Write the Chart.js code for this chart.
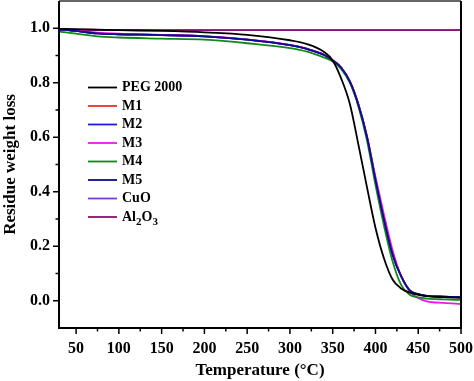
<!DOCTYPE html>
<html>
<head>
<meta charset="utf-8">
<script src="https://cdn.jsdelivr.net/npm/chart.js@4/dist/chart.umd.min.js"></script>
<style>
  html, body { margin: 0; padding: 0; background: #fff; }
  #wrap { width: 474px; height: 381px; }
</style>
</head>
<body>
<div id="wrap"><canvas id="c" width="474" height="381"></canvas></div>
<script>
// ---- data ----
const temps = [30, 50, 75, 100, 150, 200, 250, 300, 320, 340, 350, 360, 370, 380, 390, 400, 410, 420, 430, 440, 450, 460, 480, 500];
const peg2000 = [0.998, 0.997, 0.995, 0.993, 0.990, 0.985, 0.976, 0.956, 0.942, 0.913, 0.882, 0.815, 0.723, 0.574, 0.418, 0.268, 0.155, 0.078, 0.045, 0.030, 0.022, 0.017, 0.013, 0.011];
const m1 = [0.996, 0.990, 0.981, 0.978, 0.975, 0.970, 0.958, 0.938, 0.924, 0.902, 0.882, 0.855, 0.805, 0.720, 0.602, 0.444, 0.297, 0.170, 0.090, 0.038, 0.024, 0.018, 0.015, 0.013];
const m2 = [0.996, 0.990, 0.981, 0.978, 0.975, 0.970, 0.958, 0.938, 0.924, 0.902, 0.882, 0.855, 0.805, 0.720, 0.602, 0.444, 0.297, 0.170, 0.090, 0.038, 0.024, 0.018, 0.015, 0.013];
const m3 = [0.997, 0.992, 0.984, 0.980, 0.976, 0.971, 0.959, 0.939, 0.925, 0.903, 0.883, 0.856, 0.806, 0.722, 0.606, 0.455, 0.315, 0.185, 0.090, 0.035, 0.010, -0.002, -0.008, -0.012];
const m4 = [0.988, 0.980, 0.970, 0.966, 0.962, 0.958, 0.945, 0.927, 0.914, 0.892, 0.878, 0.850, 0.800, 0.713, 0.590, 0.425, 0.275, 0.145, 0.058, 0.022, 0.012, 0.008, 0.005, 0.003];
const m5 = [0.996, 0.990, 0.981, 0.978, 0.975, 0.970, 0.958, 0.938, 0.924, 0.902, 0.882, 0.855, 0.805, 0.720, 0.602, 0.444, 0.297, 0.170, 0.090, 0.038, 0.024, 0.018, 0.015, 0.013];
const cuo = [0.993, 0.993, 0.993, 0.993, 0.993, 0.993, 0.993, 0.993, 0.993, 0.993, 0.993, 0.993, 0.993, 0.993, 0.993, 0.993, 0.993, 0.993, 0.993, 0.993, 0.993, 0.993, 0.993, 0.993];
const al2o3 = [0.993, 0.993, 0.993, 0.993, 0.993, 0.993, 0.993, 0.993, 0.993, 0.993, 0.993, 0.993, 0.993, 0.993, 0.993, 0.993, 0.993, 0.993, 0.993, 0.993, 0.993, 0.993, 0.993, 0.993];

const seriesNames = ['PEG 2000', 'M1', 'M2', 'M3', 'M4', 'M5', 'CuO', 'Al2O3'];
const xTickLabels = [50, 100, 150, 200, 250, 300, 350, 400, 450, 500];
const xMinorTicks = [75, 125, 175, 225, 275, 325, 375, 425, 475];
const yTickLabels = [0.0, 0.2, 0.4, 0.6, 0.8, 1.0];
const yMinorTicks = [0.1, 0.3, 0.5, 0.7, 0.9];

// ---- styling ----
const colors = ['#000000', '#e8302c', '#1c1ce0', '#f014f0', '#0f8a1a', '#0c0c8a', '#7a3ce0', '#86146e'];
const drawOrder = [0, 5, 4, 3, 2, 1, 7, 6];
const allSeries = [peg2000, m1, m2, m3, m4, m5, cuo, al2o3];
const FONT = '"Liberation Serif", "Times New Roman", serif';

const datasets = allSeries.map((vals, i) => ({
  label: seriesNames[i],
  data: temps.map((t, k) => ({ x: t, y: vals[k] })),
  borderColor: colors[i],
  backgroundColor: colors[i],
  borderWidth: 1.8,
  pointRadius: 0,
  fill: false,
  cubicInterpolationMode: 'monotone',
  order: drawOrder[i]
}));

const decor = {
  id: 'decor',
  afterDatasetsDraw(chart) {
    const { ctx } = chart;
    ctx.save();
    const seg = (x1, y1, x2, y2) => { ctx.beginPath(); ctx.moveTo(x1, y1); ctx.lineTo(x2, y2); ctx.stroke(); };
    // legend
    const lx0 = 88, lx1 = 117, tx = 122, ty0 = 87.5, dy = 18.5;
    seriesNames.forEach((name, i) => {
      const yy = ty0 + i * dy;
      ctx.strokeStyle = colors[i];
      ctx.lineWidth = 1.8;
      seg(lx0, yy, lx1, yy);
      ctx.fillStyle = '#000';
      ctx.textBaseline = 'middle';
      ctx.textAlign = 'left';
      if (name === 'Al2O3') {
        let px = tx;
        const parts = [['Al', 0], ['2', 1], ['O', 0], ['3', 1]];
        parts.forEach(([s, sub]) => {
          ctx.font = 'bold ' + (sub ? 11 : 14) + 'px ' + FONT;
          ctx.fillText(s, px, yy + (sub ? 5 : 0));
          px += ctx.measureText(s).width;
        });
      } else {
        ctx.font = 'bold 14px ' + FONT;
        ctx.fillText(name, tx, yy);
      }
    });
    ctx.restore();
  },
  afterDraw(chart) {
    const { ctx, chartArea: a, scales: { x, y } } = chart;
    ctx.save();
    const seg = (x1, y1, x2, y2) => { ctx.beginPath(); ctx.moveTo(x1, y1); ctx.lineTo(x2, y2); ctx.stroke(); };
    ctx.strokeStyle = '#000';
    ctx.lineWidth = 1.5;
    xTickLabels.forEach(v => { const p = x.getPixelForValue(v); seg(p, a.bottom, p, a.bottom + 6); });
    xMinorTicks.forEach(v => { const p = x.getPixelForValue(v); seg(p, a.bottom, p, a.bottom + 3.5); });
    yTickLabels.forEach(v => { const p = y.getPixelForValue(v); seg(a.left, p, a.left - 6, p); });
    yMinorTicks.forEach(v => { const p = y.getPixelForValue(v); seg(a.left, p, a.left - 3.5, p); });
    // frame
    ctx.lineWidth = 2;
    ctx.strokeStyle = '#666';
    seg(a.left, a.top, a.right, a.top);
    ctx.strokeStyle = '#000';
    seg(a.left, a.top, a.left, a.bottom + 1);
    seg(a.left - 1, a.bottom, a.right + 1, a.bottom);
    seg(a.right, a.top, a.right, a.bottom + 1);
    ctx.restore();
  }
};

new Chart(document.getElementById('c'), {
  type: 'line',
  data: { datasets },
  options: {
    responsive: false,
    animation: false,
    devicePixelRatio: 1,
    layout: { padding: { top: 1, right: 13, left: 0, bottom: 0 } },
    plugins: { legend: { display: false }, tooltip: { enabled: false } },
    scales: {
      x: {
        type: 'linear',
        min: 30, max: 500,
        afterBuildTicks: s => { s.ticks = xTickLabels.map(v => ({ value: v })); },
        afterFit: s => { s.height = 53; s.paddingLeft = 0; s.paddingRight = 0; },
        grid: { display: false, drawTicks: false },
        border: { display: false },
        ticks: {
          padding: 11,
          color: '#000',
          font: { family: FONT, size: 16, weight: 'bold' },
          maxRotation: 0,
          autoSkip: false,
          callback: v => String(v)
        },
        title: {
          display: true,
          text: 'Temperature (°C)',
          color: '#000',
          font: { family: FONT, size: 17, weight: 'bold' },
          padding: { top: 0, bottom: 0 }
        }
      },
      y: {
        type: 'linear',
        min: -0.1, max: 1.1,
        afterBuildTicks: s => { s.ticks = yTickLabels.map(v => ({ value: v })); },
        afterFit: s => { s.width = 59; s.paddingTop = 0; s.paddingBottom = 0; },
        grid: { display: false, drawTicks: false },
        border: { display: false },
        ticks: {
          padding: 9,
          color: '#000',
          font: { family: FONT, size: 16, weight: 'bold' },
          autoSkip: false,
          callback: v => Number(v).toFixed(1)
        },
        title: {
          display: true,
          text: 'Residue weight loss',
          color: '#000',
          font: { family: FONT, size: 17, weight: 'bold' },
          padding: { top: 0, bottom: 0 }
        }
      }
    }
  },
  plugins: [decor]
});
</script>
</body>
</html>
